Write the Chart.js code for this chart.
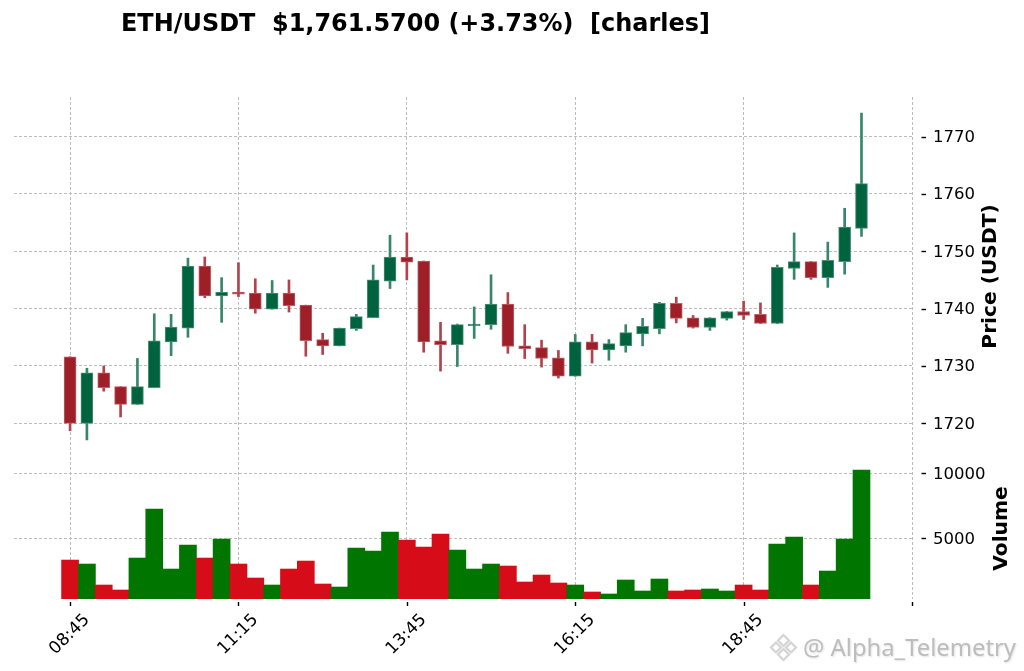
<!DOCTYPE html>
<html>
<head>
<meta charset="utf-8">
<script src="https://cdn.jsdelivr.net/npm/chart.js@4"></script>
<style>
html,body{margin:0;padding:0;background:#fff;width:1024px;height:671px;overflow:hidden}
#wrap{position:relative;width:1024px;height:671px}
canvas{display:block}
#title{position:absolute;left:121px;top:8px;font:bold 23.95px "DejaVu Sans";white-space:pre;color:#000;line-height:30px}
#mark{position:absolute;left:768px;top:630px;width:256px;height:34px;display:flex;align-items:center;color:#bdbdbd;font:23.8px "Noto Sans";white-space:pre;text-shadow:1px 1px 2px rgba(0,0,0,.12)}
#mark svg{margin-right:4px;flex:none}
</style>
</head>
<body>
<div id="wrap">
<canvas id="c" width="1024" height="671"></canvas>
<div id="title">ETH/USDT  $1,761.5700 (+3.73%)  [charles]</div>
<div id="mark"><svg width="31" height="31" viewBox="0 0 31 31" fill="none" stroke="#d4d4d4" stroke-width="2.2"><path d="M15.5 3 21 8.5 15.5 14 10 8.5Z"/><path d="M8 10.5 13 15.500 8 20.500 3 15.500Z"/><path d="M23 10.500 28 15.500 23 20.500 18 15.500Z"/><path d="M15.500 17 21 22.500 15.500 28 10 22.500Z"/></svg>@ Alpha_Telemetry</div>
</div>
<script>
const times = ['08:45','09:00','09:15','09:30','09:45','10:00','10:15','10:30','10:45','11:00',
 '11:15','11:30','11:45','12:00','12:15','12:30','12:45','13:00','13:15','13:30',
 '13:45','14:00','14:15','14:30','14:45','15:00','15:15','15:30','15:45','16:00',
 '16:15','16:30','16:45','17:00','17:15','17:30','17:45','18:00','18:15','18:30',
 '18:45','19:00','19:15','19:30','19:45','20:00','20:15','20:30'];
const opens = [1731.6,1720.0,1728.8,1726.4,1723.3,1726.2,1734.2,1736.6,1747.4,1742.2,
 1742.9,1742.7,1739.9,1742.7,1740.6,1734.6,1733.5,1736.5,1738.4,1744.8,
 1749.0,1748.3,1734.4,1733.7,1737.0,1737.2,1740.8,1733.5,1733.2,1731.4,
 1728.2,1734.2,1732.8,1733.5,1735.6,1736.5,1740.9,1738.4,1736.7,1738.3,
 1739.5,1739.0,1737.4,1747.0,1748.2,1745.4,1748.2,1754.0];
const highs = [1731.6,1729.6,1730.0,1726.4,1731.3,1739.1,1739.0,1748.8,1749.0,1745.4,
 1748.0,1745.2,1744.9,1745.0,1740.6,1735.7,1736.6,1739.0,1747.6,1752.8,
 1753.2,1748.3,1737.6,1737.3,1740.3,1745.9,1742.8,1737.2,1734.5,1732.7,
 1735.5,1735.5,1734.6,1737.2,1738.3,1741.1,1742.0,1738.8,1738.4,1739.5,
 1741.3,1741.0,1747.6,1753.2,1748.2,1751.6,1757.5,1774.1];
const lows = [1718.7,1717.1,1725.6,1721.1,1723.3,1726.2,1731.8,1735.0,1741.9,1737.6,
 1742.1,1739.2,1739.9,1739.4,1731.7,1732.0,1733.5,1736.2,1738.4,1743.5,
 1745.0,1732.4,1729.1,1729.9,1734.8,1736.4,1732.2,1731.3,1729.8,1727.9,
 1728.2,1730.5,1731.0,1732.4,1733.5,1735.6,1737.5,1736.6,1736.2,1738.0,
 1738.1,1737.4,1737.4,1745.1,1745.1,1743.7,1746.0,1752.6];
const closes = [1720.0,1728.8,1726.2,1723.3,1726.4,1734.4,1736.8,1747.4,1742.2,1742.9,
 1742.5,1739.9,1742.7,1740.5,1734.4,1733.5,1736.6,1738.6,1745.0,1749.0,
 1748.1,1734.2,1733.7,1737.2,1737.3,1740.8,1733.4,1733.0,1731.3,1728.2,
 1734.2,1732.8,1733.9,1735.8,1736.9,1740.9,1738.3,1736.7,1738.4,1739.5,
 1738.8,1737.4,1747.2,1748.2,1745.4,1748.4,1754.2,1761.8];
const volumes = [3333,3026,1410,1026,3487,7256,2641,4487,3487,4949,
 3026,1949,1410,2641,3256,1487,1256,4256,4026,5487,
 4872,4333,5333,4103,2641,3026,2872,1641,2179,1564,
 1410,872,718,1795,949,1872,949,1026,1103,949,
 1410,1026,4564,5103,1410,2487,4949,10256];
const priceTicks = [1720,1730,1740,1750,1760,1770];
const volumeTicks = [5000,10000];

const isUp = i => closes[i] >= opens[i];
const pick = (up, down) => ctx => isUp(ctx.dataIndex) ? up : down;
const fontFam = '"DejaVu Sans"';
const gridCfg = {color:'#bdbdbd', lineWidth:1, tickLength:0, drawTicks:false, offset:false};
const dash = [3,2];

const axisMarks = {
  id:'axisMarks',
  afterDraw(chart){
    const {ctx, scales, chartArea} = chart;
    ctx.save();
    ctx.strokeStyle = '#000';
    ctx.lineWidth = 1.4;
    for (const s of [scales.yPrice, scales.yVol]) {
      s.ticks.forEach((t,i)=>{
        const y = Math.round(s.getPixelForTick(i))+0.5;
        ctx.beginPath(); ctx.moveTo(chartArea.right+9.5,y); ctx.lineTo(chartArea.right+14,y); ctx.stroke();
      });
    }
    scales.x.ticks.forEach((t,i)=>{
      const x = Math.round(scales.x.getPixelForTick(i))+0.5;
      ctx.beginPath(); ctx.moveTo(x,chartArea.bottom+3); ctx.lineTo(x,chartArea.bottom+7); ctx.stroke();
    });
    ctx.fillStyle = '#000';
    ctx.textAlign = 'center';
    ctx.textBaseline = 'middle';
    ctx.font = 'bold 20.2px '+fontFam;
    const side = (txt,x,y)=>{ ctx.save(); ctx.translate(x,y); ctx.rotate(-Math.PI/2); ctx.fillText(txt,0,0); ctx.restore(); };
    side('Price (USDT)', 991, (scales.yPrice.top+scales.yPrice.bottom)/2-2);
    side('Volume', 1002, (scales.yVol.top+scales.yVol.bottom)/2-1);
    ctx.restore();
  }
};

const fixWidth = s => { s.width = 112; };
new Chart(document.getElementById('c'), {
  type:'bar',
  plugins:[axisMarks],
  data:{
    datasets:[
      {label:'Volume', yAxisID:'yVol', order:3, barThickness:17,
       data:volumes.map((v,i)=>({x:i,y:v})),
       backgroundColor:pick('#007500','#d60c18'), borderWidth:0},
      {label:'Wick', yAxisID:'yPrice', order:2, barThickness:2,
       data:times.map((t,i)=>({x:i,y:[lows[i],highs[i]]})),
       backgroundColor:pick('#35866a','#b3424c'), borderWidth:0, borderSkipped:false},
      {label:'Body', yAxisID:'yPrice', order:1, barThickness:12,
       data:times.map((t,i)=>({x:i,y:[opens[i],closes[i]]})),
       backgroundColor:pick('#00633f','#9e1f27'),
       borderColor:pick('#4f9079','#bd6168'), borderWidth:1, borderSkipped:false}
    ]
  },
  options:{
    responsive:false,
    animation:false,
    devicePixelRatio:1,
    layout:{padding:{left:14,top:97,right:0,bottom:0}},
    plugins:{legend:{display:false},title:{display:false},tooltip:{enabled:false}},
    datasets:{bar:{grouped:false}},
    scales:{
      x:{type:'linear',offset:false,min:-3.33,max:50,position:'bottom',
        border:{display:false,dash:dash},
        grid:gridCfg,
        afterFit:s=>{s.height=72;},
        ticks:{stepSize:10,includeBounds:false,autoSkip:false,minRotation:45,maxRotation:45,
          labelOffset:17,padding:11,color:'#000',font:{family:fontFam,size:17},
          callback:v=>times[v]||''}},
      yPrice:{type:'linear',position:'right',stack:'main',stackWeight:363,min:1713.6,max:1776.9,
        border:{display:false,dash:dash},
        grid:gridCfg,
        afterFit:fixWidth,
        afterBuildTicks:s=>{s.ticks=priceTicks.map(v=>({value:v}));},
        ticks:{padding:21,labelOffset:1,color:'#000',font:{family:fontFam,size:16.5},callback:v=>String(v)}},
      yVol:{type:'linear',position:'right',stack:'main',stackWeight:139,min:333,max:11038,
        border:{display:false,dash:dash},
        grid:gridCfg,
        afterFit:fixWidth,
        afterBuildTicks:s=>{s.ticks=volumeTicks.map(v=>({value:v}));},
        ticks:{padding:21,labelOffset:1,color:'#000',font:{family:fontFam,size:16.5},callback:v=>String(v)}}
    }
  }
});
</script>
</body>
</html>
